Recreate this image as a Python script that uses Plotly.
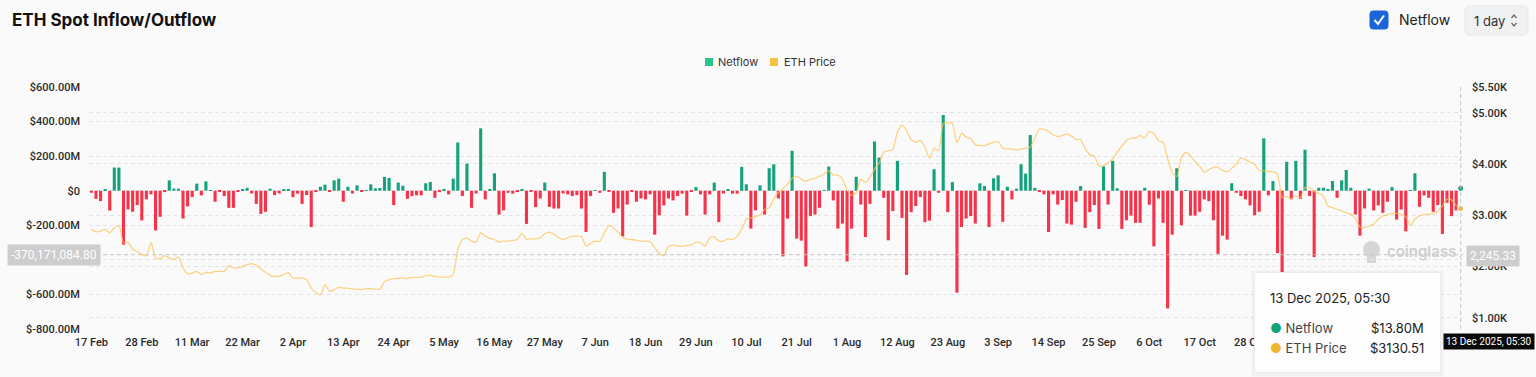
import plotly.graph_objects as go
import pandas as pd

# ---------------- data ----------------
start_date = "2025-02-17"

netflow_m = [
    -12, -47, -60, 8, -115, 134, 134, -312, -108, -122,
    -83, -172, -50, -21, -230, -151, -8, 60, 12, 12,
    -161, -91, -37, 41, -27, 54, 4, -64, -4, -31,
    -99, -99, -2, 8, 17, -16, -76, -134, -122, 12,
    -25, -16, 8, 8, -37, -17, -76, -25, -210, -4,
    23, 35, -4, 60, 70, -64, 23, -16, 31, -6,
    1, 37, 14, 16, 80, 74, -83, 47, 29, -47,
    -31, -27, -27, 43, 50, -41, -8, 8, -21, 70,
    279, -31, 157, -99, -16, 361, -50, 8, 101, -138,
    -114, -12, -17, -8, 8, -192, -2, -95, -45, 47,
    -93, -103, -103, -16, -21, -31, -25, -103, -239, -31,
    4, -12, 109, -4, -128, -103, -264, -80, -4, -64,
    -45, -50, -21, -254, -142, -85, -45, -56, -31, -17,
    -144, -2, 21, -21, -138, -21, 47, -182, -16, 8,
    -17, -17, 138, 37, -219, -114, 31, -138, 130, 153,
    -45, -380, -161, 231, -277, -289, -438, -147, -138, -99,
    2, 140, -56, -219, -190, -409, -219, 81, -80, -268,
    -76, 285, 192, -41, -287, -118, 173, -157, -487, -124,
    -89, -37, -182, -173, 124, -12, 438, -124, 50, -590,
    -210, -161, -147, -190, 43, 27, -210, 72, 89, -180,
    23, -50, 12, 153, 99, 322, 16, -8, -21, -239,
    -21, -80, -54, -190, -196, -64, 27, -215, -124, -83,
    -221, 140, -80, 173, 14, -221, -171, -144, -186, -186,
    17, -81, -322, -45, -186, -681, -254, 130, -200, 4,
    -144, -144, -122, -50, -60, -171, -365, -260, -283, 43,
    -12, -31, -50, -85, -142, -122, 303, -27, 56, -361,
    -477, 167, -50, 173, -47, 237, -31, -384, 17, 17,
    8, 56, -41, 60, 120, 17, -138, -260, -103, 12,
    -114, -85, -128, -64, 21, -167, -109, -235, 4, 101,
    -93, -27, -41, -122, -83, -250, -70, -147, -114, 13.8,
]

eth_price = [
    2725, 2680, 2693, 2725, 2660, 2758, 2804, 2464, 2477, 2333,
    2300, 2235, 2216, 2477, 2170, 2150, 2216, 2170, 2137, 2190,
    1974, 1863, 1876, 1908, 1843, 1889, 1876, 1908, 1908, 1908,
    2020, 1974, 1974, 2007, 2039, 2059, 2026, 1954, 1889, 1830,
    1810, 1810, 1843, 1876, 1778, 1778, 1778, 1745, 1582, 1497,
    1451, 1647, 1516, 1549, 1601, 1582, 1582, 1562, 1562, 1549,
    1569, 1569, 1562, 1562, 1712, 1745, 1765, 1778, 1778, 1765,
    1791, 1791, 1791, 1824, 1830, 1810, 1797, 1797, 1797, 1843,
    2333, 2529, 2562, 2497, 2477, 2660, 2595, 2549, 2529, 2477,
    2497, 2497, 2510, 2529, 2647, 2529, 2542, 2542, 2562, 2640,
    2673, 2634, 2562, 2529, 2562, 2595, 2595, 2588, 2399, 2451,
    2497, 2490, 2660, 2804, 2758, 2673, 2575, 2529, 2529, 2516,
    2497, 2497, 2484, 2366, 2255, 2216, 2399, 2418, 2399, 2399,
    2412, 2418, 2477, 2464, 2399, 2562, 2582, 2497, 2497, 2542,
    2529, 2595, 2725, 2922, 2954, 2974, 3000, 3118, 3150, 3314,
    3444, 3523, 3608, 3719, 3758, 3706, 3660, 3706, 3719, 3758,
    3804, 3869, 3784, 3784, 3706, 3497, 3392, 3444, 3706, 3641,
    3739, 3902, 4020, 4229, 4261, 4281, 4621, 4752, 4654, 4471,
    4425, 4458, 4327, 4111, 4307, 4261, 4784, 4804, 4784, 4412,
    4601, 4523, 4490, 4373, 4359, 4359, 4392, 4425, 4438, 4307,
    4294, 4294, 4274, 4294, 4307, 4327, 4503, 4686, 4673, 4634,
    4569, 4536, 4556, 4588, 4542, 4477, 4477, 4294, 4183, 4150,
    3967, 3967, 4020, 4098, 4229, 4346, 4458, 4503, 4503, 4556,
    4503, 4634, 4588, 4458, 4425, 4098, 3837, 3752, 4131, 4229,
    4163, 4046, 3954, 3837, 3889, 3935, 3935, 3869, 3850, 3915,
    4000, 4118, 4085, 4033, 3993, 3869, 3869, 3850, 3850, 3804,
    3346, 3366, 3327, 3379, 3346, 3542, 3542, 3464, 3431, 3379,
    3183, 3150, 3118, 3085, 3052, 3020, 2941, 2771, 2758, 2791,
    2824, 2922, 2987, 3013, 3033, 3039, 3020, 2974, 2804, 2922,
    2987, 3020, 3020, 3033, 3085, 3183, 3314, 3301, 3196, 3130.51,
]

left_tickvals = [-800, -600, -400, -200, 0, 200, 400, 600]
# the -400M label sits under the crosshair value label in the reference
left_ticktext = ["$-800.00M", "$-600.00M", "", "$-200.00M", "$0",
                 "$200.00M", "$400.00M", "$600.00M"]
right_tickvals = [1000, 2000, 3000, 4000, 5000, 5500]
right_ticktext = ["$1.00K", "$2.00K", "$3.00K", "$4.00K", "$5.00K", "$5.50K"]

crosshair_flow = -370.1710848
crosshair_flow_text = "-370,171,084.80"
crosshair_price_text = "2,245.33"
tooltip_date = "13 Dec 2025, 05:30"
tooltip_netflow = "$13.80M"
tooltip_price = "$3130.51"

dates = pd.date_range(start_date, periods=len(netflow_m), freq="D")
# tick labels visible in the reference (later ones sit under the tooltip)
tick_dates = pd.date_range(start_date, "2025-10-28", freq="11D")
tick_text = [f"{d.day} {d.strftime('%b')}" for d in tick_dates]

# ---------------- style ----------------
GREEN = "#14a27d"
RED = "#f5334a"
PRICE = "rgba(252,196,88,0.72)"
BG = "#fafafa"
GRID = "#e4e4e4"
FONT = "Inter"
TICKFONT = "Roboto"
TICKCOLOR = "#2a2a2a"

W, H = 1536, 377
L, R, T, B = 89, 1463, 87, 329


def px(x):
    return (x - L) / (R - L)


def py(y):
    return (B - y) / (B - T)


def rrect(x0, y0, x1, y1, r):
    pts = [
        ("M", [(x0 + r, y0)]), ("L", [(x1 - r, y0)]), ("Q", [(x1, y0), (x1, y0 + r)]),
        ("L", [(x1, y1 - r)]), ("Q", [(x1, y1), (x1 - r, y1)]), ("L", [(x0 + r, y1)]),
        ("Q", [(x0, y1), (x0, y1 - r)]), ("L", [(x0, y0 + r)]), ("Q", [(x0, y0), (x0 + r, y0)]),
    ]
    s = ""
    for cmd, ps in pts:
        s += cmd + " " + " ".join(f"{px(a):.5f},{py(b):.5f}" for a, b in ps) + " "
    return s + "Z"


def polyline(points):
    return "M " + " L ".join(f"{px(a):.5f},{py(b):.5f}" for a, b in points)


bar_colors = [GREEN if v >= 0 else RED for v in netflow_m]

fig = go.Figure()
fig.add_trace(go.Bar(
    x=dates, y=netflow_m, name="Netflow", marker=dict(color=bar_colors, line_width=0),
    width=0.68 * 86400000, showlegend=False, yaxis="y",
))
fig.add_trace(go.Scatter(
    x=dates, y=eth_price, name="ETH Price", mode="lines",
    line=dict(color=PRICE, width=1.3, shape="spline", smoothing=0.6),
    showlegend=False, yaxis="y2",
))
# hover markers at the last point
fig.add_trace(go.Scatter(
    x=[dates[-1]], y=[netflow_m[-1]], mode="markers", yaxis="y", showlegend=False,
    marker=dict(color=GREEN, size=6, line=dict(color="white", width=1)),
))
fig.add_trace(go.Scatter(
    x=[dates[-1]], y=[eth_price[-1]], mode="markers", yaxis="y2", showlegend=False,
    marker=dict(color="#f4b73c", size=6, line=dict(color="white", width=1)),
))

shapes = []
# crosshair
shapes.append(dict(type="line", xref="paper", yref="y", x0=0, x1=1,
                   y0=crosshair_flow, y1=crosshair_flow,
                   line=dict(color="#c4c4c4", width=1, dash="4px,3px"), layer="above"))
shapes.append(dict(type="line", xref="x", yref="paper", x0=dates[-1], x1=dates[-1],
                   y0=0, y1=1, line=dict(color="#c4c4c4", width=1, dash="4px,3px"), layer="above"))
# legend squares
shapes.append(dict(type="rect", xref="paper", yref="paper", x0=px(705), x1=px(713),
                   y0=py(66), y1=py(58), fillcolor="#2bc48a", line_width=0))
shapes.append(dict(type="rect", xref="paper", yref="paper", x0=px(770), x1=px(778),
                   y0=py(66), y1=py(58), fillcolor="#f6c244", line_width=0))
# checkbox
shapes.append(dict(type="path", xref="paper", yref="paper", path=rrect(1370, 11, 1388, 29, 3),
                   fillcolor="#1a66d9", line=dict(color="#1a66d9", width=1)))
shapes.append(dict(type="path", xref="paper", yref="paper",
                   path=polyline([(1374.5, 20), (1378, 24), (1384, 15.5)]),
                   line=dict(color="white", width=2)))
# "1 day" button
shapes.append(dict(type="path", xref="paper", yref="paper", path=rrect(1465, 6, 1528, 35, 5),
                   fillcolor="#f0f1f3", line=dict(color="#e6e7ea", width=1)))
shapes.append(dict(type="path", xref="paper", yref="paper",
                   path=polyline([(1511.5, 18), (1514, 15), (1516.5, 18)]),
                   line=dict(color="#666", width=1.2)))
shapes.append(dict(type="path", xref="paper", yref="paper",
                   path=polyline([(1511.5, 23), (1514, 26), (1516.5, 23)]),
                   line=dict(color="#666", width=1.2)))
# watermark icon
shapes.append(dict(type="circle", xref="paper", yref="paper", x0=px(1363), x1=px(1380),
                   y0=py(258), y1=py(241), fillcolor="#d6d6d6", line_width=0, layer="below"))
shapes.append(dict(type="rect", xref="paper", yref="paper", x0=px(1367), x1=px(1376),
                   y0=py(263), y1=py(252), fillcolor="#d6d6d6", line_width=0, layer="below"))

ann = []
# title
ann.append(dict(x=px(10), y=py(20), xref="paper", yref="paper", xanchor="left", yanchor="middle",
                text="ETH Spot Inflow/Outflow", showarrow=False,
                font=dict(family=FONT, size=17, color="#111", weight=700)))
# checkbox label
ann.append(dict(x=px(1397), y=py(20), xref="paper", yref="paper", xanchor="left", yanchor="middle",
                text="Netflow", showarrow=False, font=dict(family=FONT, size=14, color="#222")))
# button label
ann.append(dict(x=px(1472), y=py(20.5), xref="paper", yref="paper", xanchor="left", yanchor="middle",
                text="1 day", showarrow=False, font=dict(family=FONT, size=13, color="#333")))
# legend texts
ann.append(dict(x=px(716), y=py(62), xref="paper", yref="paper", xanchor="left", yanchor="middle",
                text="Netflow", showarrow=False, font=dict(family=FONT, size=11, color="#333")))
ann.append(dict(x=px(782), y=py(62), xref="paper", yref="paper", xanchor="left", yanchor="middle",
                text="ETH Price", showarrow=False, font=dict(family=FONT, size=11, color="#333")))
# watermark
ann.append(dict(x=px(1385), y=py(251), xref="paper", yref="paper", xanchor="left", yanchor="middle",
                text="coinglass", showarrow=False,
                font=dict(family=FONT, size=15, color="#cfcfcf", weight=600)))
# crosshair value labels
ann.append(dict(x=px(54), y=py(255), xref="paper", yref="paper", xanchor="center", yanchor="middle",
                text=crosshair_flow_text, showarrow=False, bgcolor="#cdcdcd", borderpad=3,
                font=dict(family=TICKFONT, size=12, color="white")))
ann.append(dict(x=px(1493), y=py(256), xref="paper", yref="paper", xanchor="center", yanchor="middle",
                text=crosshair_price_text, showarrow=False, bgcolor="#cdcdcd", borderpad=3,
                font=dict(family=TICKFONT, size=12, color="white")))
# tooltip box (shadow + body)
ann.append(dict(x=px(1347.5), y=py(323), xref="paper", yref="paper", xanchor="center", yanchor="middle",
                text=" ", showarrow=False, width=191, height=105, borderpad=0,
                bgcolor="rgba(0,0,0,0.035)"))
ann.append(dict(x=px(1347.5), y=py(322.5), xref="paper", yref="paper", xanchor="center", yanchor="middle",
                text=" ", showarrow=False, width=185, height=99, borderpad=0,
                bgcolor="#fdfdfd", bordercolor="#ececec", borderwidth=1))
ann.append(dict(x=px(1268), y=py(298), xref="paper", yref="paper", xanchor="left", yanchor="middle",
                text=tooltip_date, showarrow=False, font=dict(family=FONT, size=13, color="#222")))
ann.append(dict(x=px(1268), y=py(328), xref="paper", yref="paper", xanchor="left", yanchor="middle",
                text=f"<span style='color:{GREEN}'>●</span> Netflow", showarrow=False,
                font=dict(family=FONT, size=13, color="#444")))
ann.append(dict(x=px(1426), y=py(328), xref="paper", yref="paper", xanchor="right", yanchor="middle",
                text=tooltip_netflow, showarrow=False, font=dict(family=FONT, size=13, color="#222")))
ann.append(dict(x=px(1268), y=py(348), xref="paper", yref="paper", xanchor="left", yanchor="middle",
                text="<span style='color:#f0b62f'>●</span> ETH Price", showarrow=False,
                font=dict(family=FONT, size=13, color="#444")))
ann.append(dict(x=px(1426), y=py(348), xref="paper", yref="paper", xanchor="right", yanchor="middle",
                text=tooltip_price, showarrow=False, font=dict(family=FONT, size=13, color="#222")))
# bottom date label, placed right of the tooltip
ann.append(dict(x=px(1443), y=py(341), xref="paper", yref="paper", xanchor="left", yanchor="middle",
                text=tooltip_date, showarrow=False, bgcolor="#0a0a0a", borderpad=2,
                font=dict(family=TICKFONT, size=10, color="white")))

fig.update_layout(
    width=W, height=H, autosize=False,
    margin=dict(l=L, r=W - R, t=T, b=H - B, pad=0),
    paper_bgcolor=BG, plot_bgcolor=BG,
    bargap=0.3, showlegend=False, hovermode=False,
    font=dict(family=TICKFONT, size=11, color=TICKCOLOR),
    xaxis=dict(
        type="date",
        range=[dates[0] - pd.Timedelta(hours=12.7), dates[-1] + pd.Timedelta(hours=12)],
        tickvals=list(tick_dates), ticktext=tick_text, showgrid=False, zeroline=False,
        showline=False, ticks="", ticklabelstandoff=5,
        tickfont=dict(family=TICKFONT, size=11, color=TICKCOLOR, weight=500),
    ),
    yaxis=dict(
        range=[-800, 600], tickvals=left_tickvals, ticktext=left_ticktext,
        showgrid=True, gridcolor=GRID, griddash="4px,3px", gridwidth=1,
        zeroline=False, showline=False, ticks="", ticklabelstandoff=8,
        tickfont=dict(family=TICKFONT, size=11, color=TICKCOLOR, weight=500),
    ),
    yaxis2=dict(
        range=[785, 5500], tickvals=right_tickvals, ticktext=right_ticktext,
        overlaying="y", side="right",
        showgrid=True, gridcolor=GRID, griddash="4px,3px", gridwidth=1,
        zeroline=False, showline=False, ticks="", ticklabelstandoff=8,
        tickfont=dict(family=TICKFONT, size=11, color=TICKCOLOR, weight=500),
    ),
    shapes=shapes, annotations=ann,
)

fig.write_html(
    "out.html",
    config={"displayModeBar": False, "staticPlot": False},
    post_script="document.body.style.margin='0';document.body.style.overflow='hidden';",
)
